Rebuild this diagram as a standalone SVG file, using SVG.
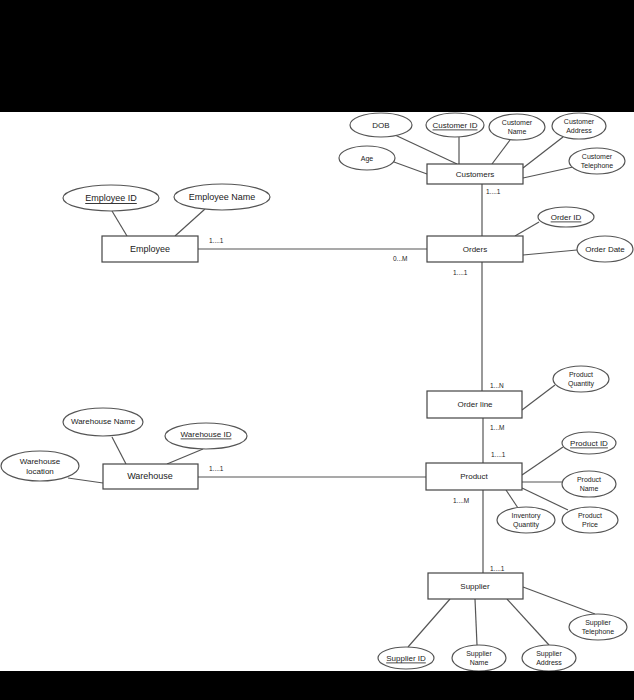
<svg xmlns="http://www.w3.org/2000/svg" width="634" height="700" viewBox="0 0 634 700">
<style>
.ent{fill:#fff;stroke:#444;stroke-width:1.2}
.att{fill:#fff;stroke:#555;stroke-width:1.2}
.ln{stroke:#555;stroke-width:1.2;fill:none}
text{font-family:"Liberation Sans",Arial,sans-serif;fill:#222;text-anchor:middle;dominant-baseline:central}
.t{font-size:8px}
.tl{font-size:9px}
.s{font-size:7px}
.c{font-size:6.5px;text-anchor:start}
.u{text-decoration:underline}
</style>
<rect x="0" y="0" width="634" height="700" fill="#fff"/>
<g id="connectors">
<line class="ln" x1="482" y1="184" x2="482" y2="236"/>
<line class="ln" x1="482" y1="262" x2="482" y2="391"/>
<line class="ln" x1="483" y1="418" x2="483" y2="463"/>
<line class="ln" x1="483" y1="490" x2="483" y2="573"/>
<line class="ln" x1="198" y1="249" x2="427" y2="249"/>
<line class="ln" x1="198" y1="477" x2="426" y2="477"/>
<line class="ln" x1="395" y1="135" x2="457" y2="164"/>
<line class="ln" x1="459" y1="137" x2="459" y2="164"/>
<line class="ln" x1="510" y1="140" x2="492" y2="164"/>
<line class="ln" x1="563" y1="137" x2="523" y2="168"/>
<line class="ln" x1="573" y1="167" x2="523" y2="178"/>
<line class="ln" x1="394" y1="162" x2="427" y2="174"/>
<line class="ln" x1="112" y1="211" x2="127" y2="236"/>
<line class="ln" x1="205" y1="209" x2="175" y2="236"/>
<line class="ln" x1="539" y1="222" x2="515" y2="236"/>
<line class="ln" x1="523" y1="255" x2="577" y2="250"/>
<line class="ln" x1="555" y1="385" x2="522" y2="410"/>
<line class="ln" x1="563" y1="447" x2="522" y2="475"/>
<line class="ln" x1="522" y1="482" x2="562" y2="482"/>
<line class="ln" x1="522" y1="488" x2="568" y2="510"/>
<line class="ln" x1="506" y1="490" x2="518" y2="508"/>
<line class="ln" x1="112" y1="437" x2="126" y2="464"/>
<line class="ln" x1="203" y1="449" x2="167" y2="464"/>
<line class="ln" x1="68" y1="478" x2="103" y2="483"/>
<line class="ln" x1="450" y1="599" x2="408" y2="647"/>
<line class="ln" x1="475" y1="599" x2="477" y2="645"/>
<line class="ln" x1="507" y1="599" x2="549" y2="645"/>
<line class="ln" x1="523" y1="587" x2="595" y2="614"/>
</g>
<g id="labels">
<text class="c" x="486" y="191">1....1</text>
<text class="c" x="209" y="240">1....1</text>
<text class="c" x="393" y="258">0...M</text>
<text class="c" x="453" y="272">1....1</text>
<text class="c" x="490" y="385">1...N</text>
<text class="c" x="490" y="427">1...M</text>
<text class="c" x="491" y="454">1....1</text>
<text class="c" x="453" y="500">1....M</text>
<text class="c" x="490" y="568">1....1</text>
<text class="c" x="209" y="468">1....1</text>
</g>
<g id="customers"><rect class="ent" x="427" y="164" width="96" height="20"/><text class="t" x="475" y="174">Customers</text></g>
<g id="dob"><ellipse class="att" cx="381" cy="125" rx="31" ry="12"/><text class="t" x="381" y="125">DOB</text></g>
<g id="customer-id"><ellipse class="att" cx="455" cy="125" rx="29" ry="12"/><text class="t u" x="455" y="125">Customer ID</text></g>
<g id="customer-name"><ellipse class="att" cx="517" cy="127" rx="28" ry="13"/><text class="s" x="517" y="122">Customer</text><text class="s" x="517" y="131">Name</text></g>
<g id="customer-address"><ellipse class="att" cx="579" cy="126" rx="27" ry="13"/><text class="s" x="579" y="121">Customer</text><text class="s" x="579" y="130">Address</text></g>
<g id="age"><ellipse class="att" cx="367" cy="158" rx="28" ry="12"/><text class="s" x="367" y="158">Age</text></g>
<g id="customer-telephone"><ellipse class="att" cx="597" cy="161" rx="28" ry="13"/><text class="s" x="597" y="156">Customer</text><text class="s" x="597" y="165">Telephone</text></g>
<g id="employee"><rect class="ent" x="102" y="236" width="96" height="26"/><text class="tl" x="150" y="249">Employee</text></g>
<g id="employee-id"><ellipse class="att" cx="111" cy="198" rx="48" ry="13"/><text class="tl u" x="111" y="198">Employee ID</text></g>
<g id="employee-name"><ellipse class="att" cx="222" cy="197" rx="48" ry="13"/><text class="tl" x="222" y="197">Employee Name</text></g>
<g id="orders"><rect class="ent" x="427" y="236" width="96" height="26"/><text class="t" x="475" y="249">Orders</text></g>
<g id="order-id"><ellipse class="att" cx="566" cy="217" rx="28" ry="10"/><text class="t u" x="566" y="217">Order ID</text></g>
<g id="order-date"><ellipse class="att" cx="605" cy="249" rx="28" ry="13"/><text class="t" x="605" y="249">Order Date</text></g>
<g id="order-line"><rect class="ent" x="427" y="391" width="95" height="27"/><text class="t" x="475" y="404">Order line</text></g>
<g id="product-quantity"><ellipse class="att" cx="581" cy="379" rx="28" ry="13"/><text class="s" x="581" y="374">Product</text><text class="s" x="581" y="383">Quantity</text></g>
<g id="product"><rect class="ent" x="426" y="463" width="96" height="27"/><text class="t" x="474" y="476">Product</text></g>
<g id="product-id"><ellipse class="att" cx="589" cy="443" rx="27" ry="11"/><text class="t u" x="589" y="443">Product ID</text></g>
<g id="product-name"><ellipse class="att" cx="589" cy="484" rx="27" ry="13"/><text class="s" x="589" y="479">Product</text><text class="s" x="589" y="488">Name</text></g>
<g id="product-price"><ellipse class="att" cx="590" cy="520" rx="28" ry="13"/><text class="s" x="590" y="515">Product</text><text class="s" x="590" y="524">Price</text></g>
<g id="inventory-quantity"><ellipse class="att" cx="526" cy="520" rx="29" ry="13"/><text class="s" x="526" y="515">Inventory</text><text class="s" x="526" y="524">Quantity</text></g>
<g id="warehouse"><rect class="ent" x="103" y="464" width="95" height="25"/><text class="tl" x="150" y="476">Warehouse</text></g>
<g id="warehouse-name"><ellipse class="att" cx="103" cy="422" rx="40" ry="14"/><text class="t" x="103" y="421">Warehouse Name</text></g>
<g id="warehouse-id"><ellipse class="att" cx="206" cy="436" rx="41" ry="13"/><text class="t u" x="206" y="434">Warehouse ID</text></g>
<g id="warehouse-location"><ellipse class="att" cx="40" cy="466" rx="39" ry="15"/><text class="t" x="40" y="461">Warehouse</text><text class="t" x="40" y="471">location</text></g>
<g id="supplier"><rect class="ent" x="428" y="573" width="95" height="26"/><text class="t" x="475" y="586">Supplier</text></g>
<g id="supplier-id"><ellipse class="att" cx="406" cy="658" rx="28" ry="11"/><text class="t u" x="406" y="658">Supplier ID</text></g>
<g id="supplier-name"><ellipse class="att" cx="479" cy="658" rx="27" ry="13"/><text class="s" x="479" y="653">Supplier</text><text class="s" x="479" y="662">Name</text></g>
<g id="supplier-address"><ellipse class="att" cx="549" cy="658" rx="27" ry="13"/><text class="s" x="549" y="653">Supplier</text><text class="s" x="549" y="662">Address</text></g>
<g id="supplier-telephone"><ellipse class="att" cx="598" cy="627" rx="29" ry="13"/><text class="s" x="598" y="622">Supplier</text><text class="s" x="598" y="631">Telephone</text></g>
<rect x="0" y="0" width="634" height="112" fill="#000"/>
<rect x="0" y="671" width="634" height="29" fill="#000"/>
</svg>
